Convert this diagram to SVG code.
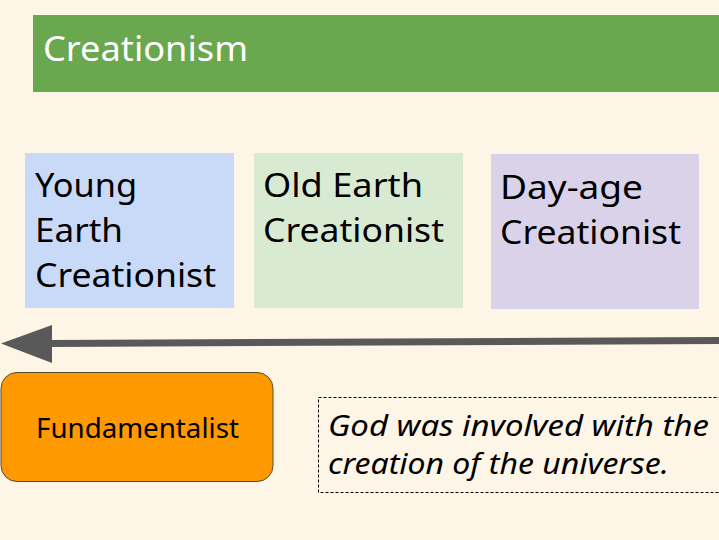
<svg xmlns="http://www.w3.org/2000/svg" width="719" height="540" viewBox="0 0 719 540">
<style>
text{font-family:"Noto Sans","Open Sans",sans-serif;fill:#000}
.big{font-size:33px}
.it{font-size:29px;font-style:italic}
</style>
<rect width="719" height="540" fill="#fdf5e6"/>
<g id="title">
<rect x="33" y="15" width="686" height="77" fill="#6aa84f"/>
<text x="43" y="61" style="font-size:35px;fill:#fff" textLength="205" lengthAdjust="spacingAndGlyphs">Creationism</text>
</g>
<g id="young">
<rect x="25" y="153" width="209" height="155" fill="#c9daf8"/>
<text class="big" x="35" y="197" textLength="102" lengthAdjust="spacingAndGlyphs">Young</text>
<text class="big" x="35" y="242" textLength="88" lengthAdjust="spacingAndGlyphs">Earth</text>
<text class="big" x="35" y="287" textLength="181" lengthAdjust="spacingAndGlyphs">Creationist</text>
</g>
<g id="old">
<rect x="254" y="153" width="209" height="155" fill="#d9ead3"/>
<text class="big" x="263" y="197" textLength="160" lengthAdjust="spacingAndGlyphs">Old Earth</text>
<text class="big" x="263" y="242" textLength="181" lengthAdjust="spacingAndGlyphs">Creationist</text>
</g>
<g id="dayage">
<rect x="491" y="154" width="208" height="155" fill="#d9d2e9"/>
<text class="big" x="500" y="199" textLength="143" lengthAdjust="spacingAndGlyphs">Day-age</text>
<text class="big" x="500" y="244" textLength="181" lengthAdjust="spacingAndGlyphs">Creationist</text>
</g>
<g id="connectors">
<line x1="719" y1="340.5" x2="50" y2="343.5" stroke="#595959" stroke-width="7"/>
<polygon points="1,343.5 52,325 52,363" fill="#595959"/>
</g>
<g id="fundamentalist">
<rect x="1" y="372.5" width="272" height="109" rx="16" fill="#ff9900" stroke="#5a4a2a" stroke-width="1"/>
<text x="36" y="438" style="font-size:27px" textLength="203" lengthAdjust="spacingAndGlyphs">Fundamentalist</text>
</g>
<g id="note">
<rect x="318.5" y="397.5" width="410" height="95" fill="none" stroke="#000" stroke-width="1" stroke-dasharray="3,2"/>
<text class="it" x="328" y="436" textLength="381" lengthAdjust="spacingAndGlyphs">God was involved with the</text>
<text class="it" x="328" y="474" textLength="341" lengthAdjust="spacingAndGlyphs">creation of the universe.</text>
</g>
</svg>
